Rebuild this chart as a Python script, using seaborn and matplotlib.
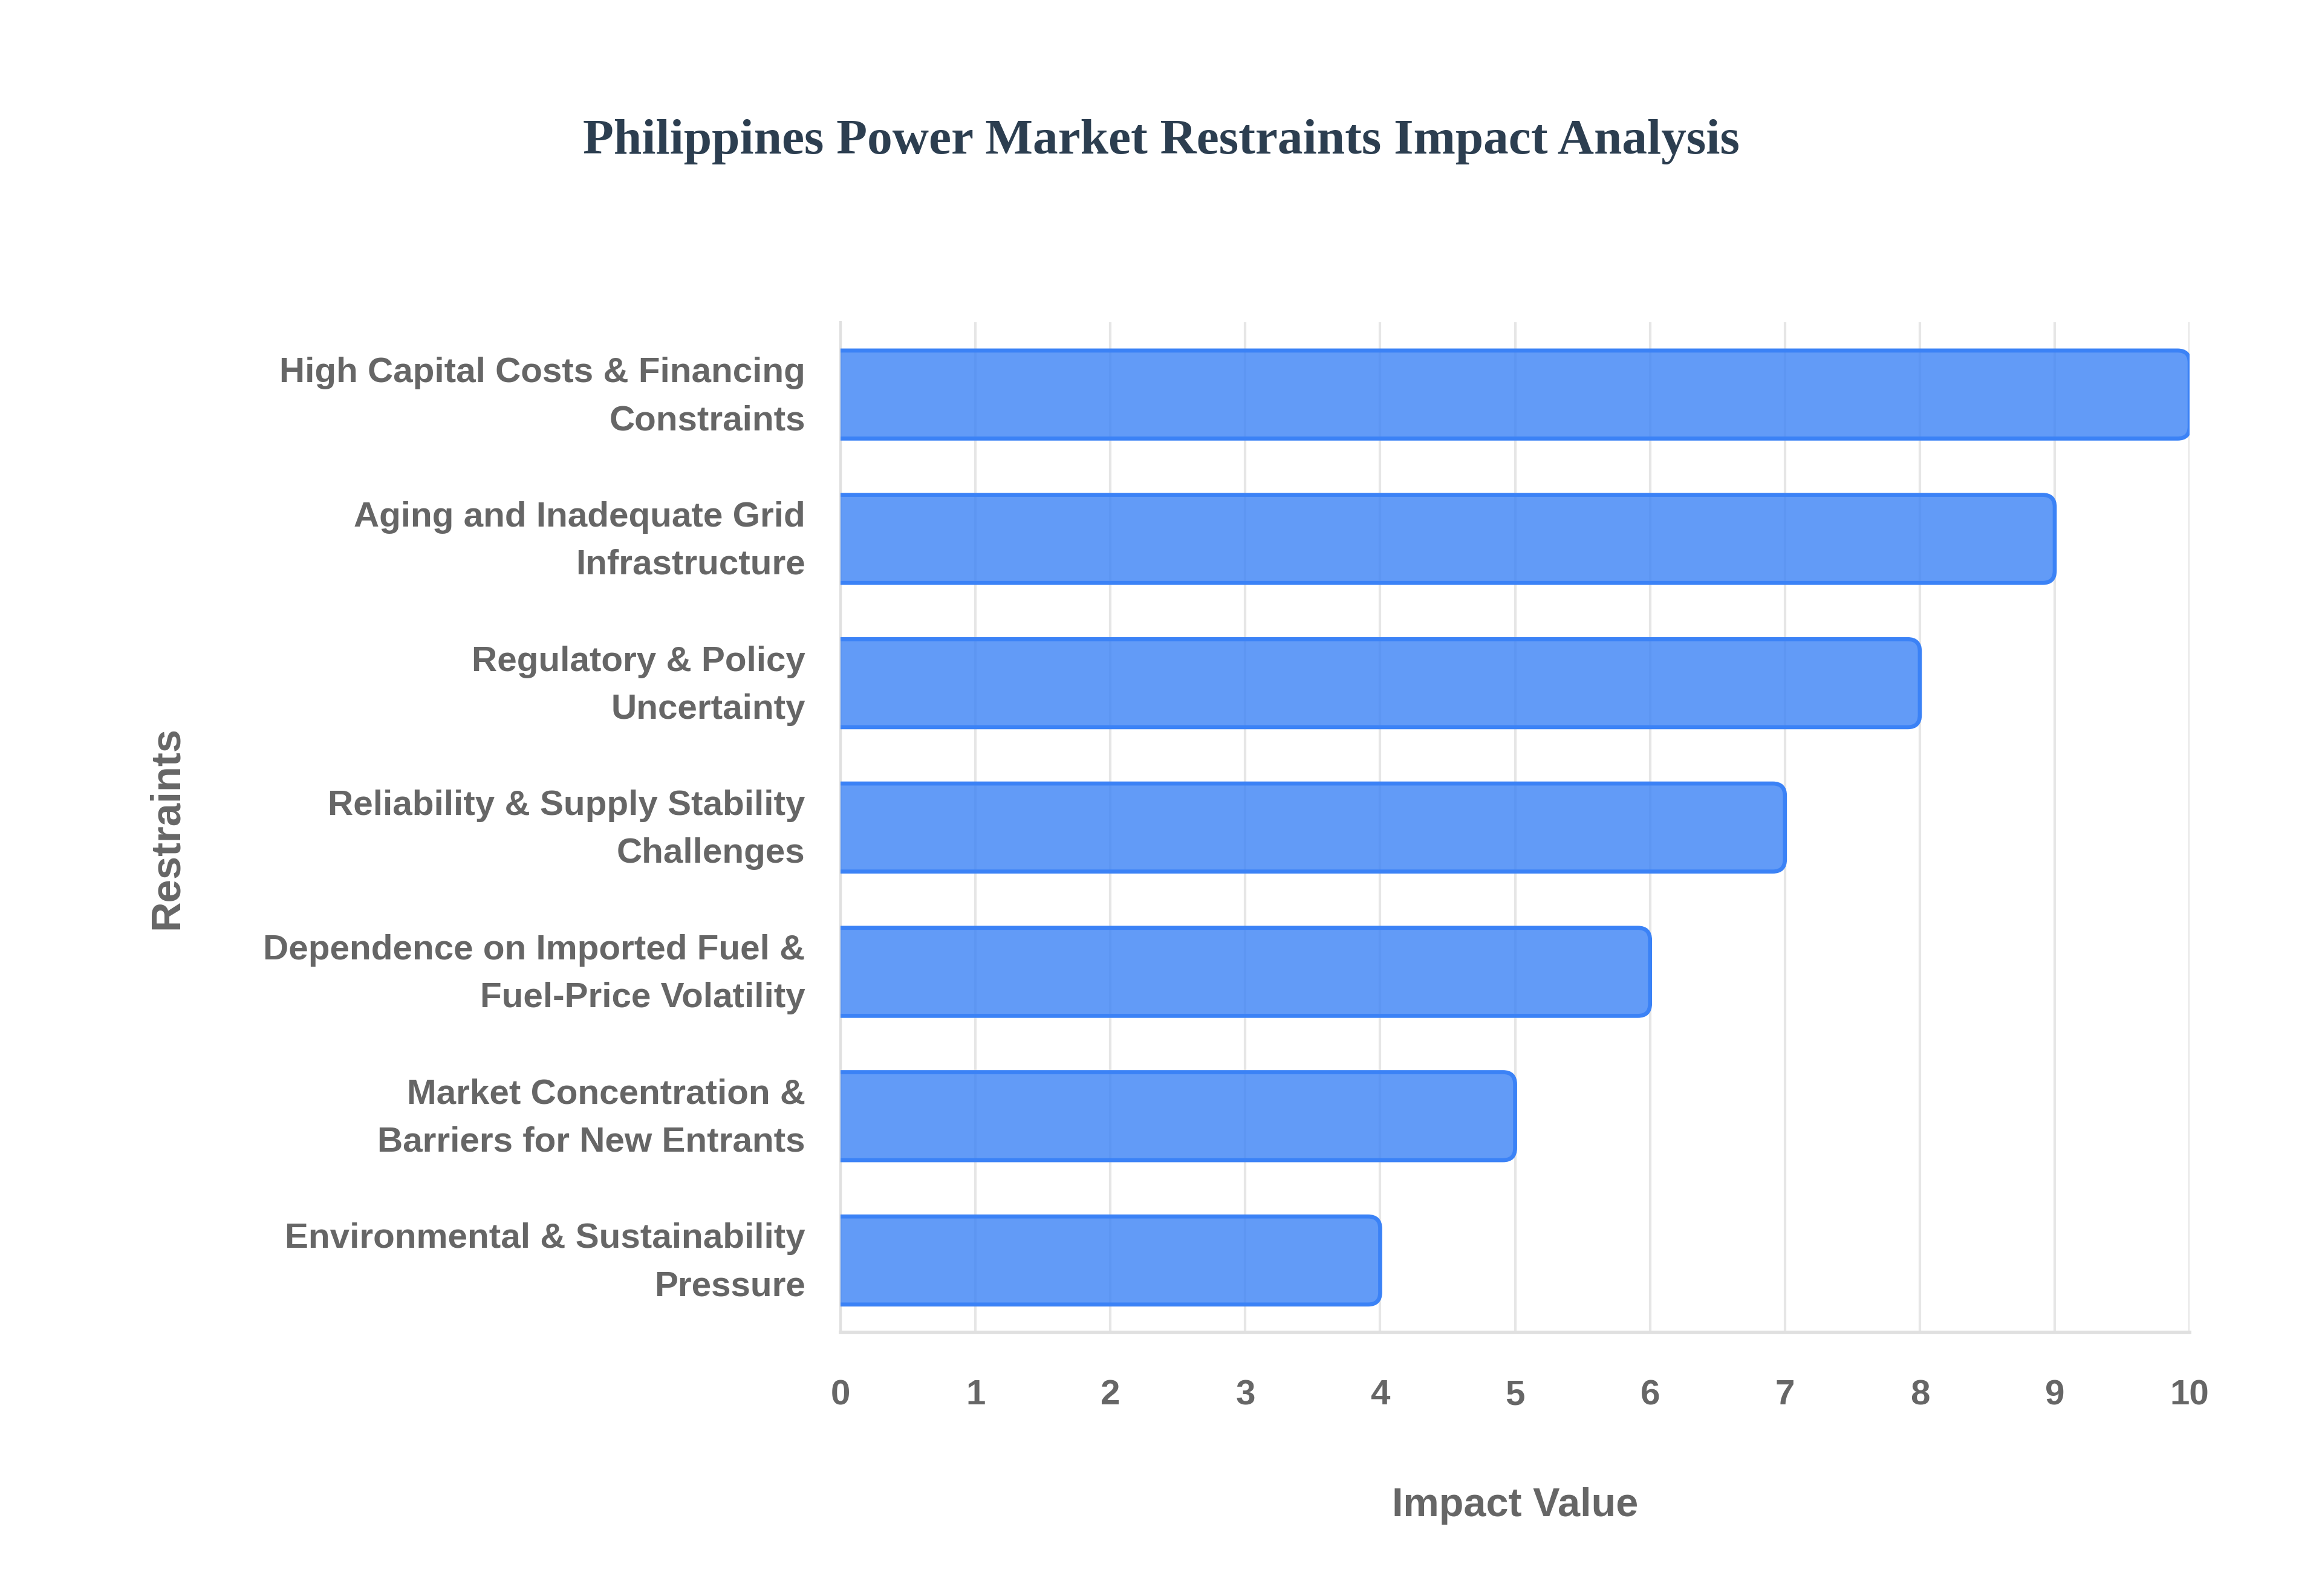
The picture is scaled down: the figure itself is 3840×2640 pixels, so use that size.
import matplotlib
matplotlib.use("Agg")
import matplotlib.pyplot as plt
import matplotlib.transforms as mtransforms
import seaborn as sns
import pandas as pd
from matplotlib.patches import FancyBboxPatch

categories = [
    "High Capital Costs & Financing\nConstraints",
    "Aging and Inadequate Grid\nInfrastructure",
    "Regulatory & Policy\nUncertainty",
    "Reliability & Supply Stability\nChallenges",
    "Dependence on Imported Fuel &\nFuel-Price Volatility",
    "Market Concentration &\nBarriers for New Entrants",
    "Environmental & Sustainability\nPressure",
]
impact_values = [10, 9, 8, 7, 6, 5, 4]
x_ticks = [0, 1, 2, 3, 4, 5, 6, 7, 8, 9, 10]

title = "Philippines Power Market Restraints Impact Analysis"
x_label = "Impact Value"
y_label = "Restraints"

sns.set_theme(style="white")
plt.rcParams["font.family"] = ["Liberation Sans", "DejaVu Sans"]

df = pd.DataFrame({"Restraint": categories, "Impact": impact_values})

fig = plt.figure(figsize=(12.8, 8.8), dpi=300)
ax = fig.add_axes([0.362, 0.165, 0.581, 0.633])

sns.barplot(data=df, x="Impact", y="Restraint", orient="h", ax=ax,
            color="#3b82f6", width=0.61, saturation=1)

ax.set_xlim(0, 10)
ax.set_ylim(len(categories) - 0.5, -0.5)

# rounded bars built from seaborn's patches
fig.canvas.draw()
bbox = ax.get_window_extent()
xu_per_px = 10 / bbox.width
yu_per_px = len(categories) / bbox.height
aspect = yu_per_px / xu_per_px
r = 20 * xu_per_px
for p in list(ax.patches):
    x0, y0 = p.get_x(), p.get_y()
    w, h = p.get_width(), p.get_height()
    p.set_visible(False)
    fb = FancyBboxPatch((x0 - r * 2, y0), w + r * 2, h,
                        boxstyle=f"round,pad=0,rounding_size={r}",
                        mutation_aspect=aspect,
                        facecolor=(59/255, 130/255, 246/255, 0.8),
                        edgecolor="#3b82f6", linewidth=1.6, zorder=3)
    ax.add_patch(fb)

ax.set_xticks(x_ticks)
ax.grid(axis="x", color="#e6e6e6", linewidth=1.0, zorder=0)
ax.grid(axis="y", visible=False)
ax.set_axisbelow(True)
for s in ["top", "right"]:
    ax.spines[s].set_visible(False)
ax.spines["left"].set_color("#e0e0e0")
ax.spines["bottom"].set_color("#e0e0e0")
ax.spines["left"].set_linewidth(1.0)
ax.spines["bottom"].set_linewidth(1.4)

ax.tick_params(axis="x", length=6, color="#e6e6e6", width=1.0, pad=12.5,
               labelsize=14, labelcolor="#666666")
ax.tick_params(axis="y", length=0, pad=14, labelsize=14, labelcolor="#666666")
for lab in ax.get_xticklabels() + ax.get_yticklabels():
    lab.set_fontweight("bold")
shift = mtransforms.ScaledTranslation(0, 3.5 / 72, fig.dpi_scale_trans)
for lab in ax.get_yticklabels():
    lab.set_horizontalalignment("right")
    lab.set_multialignment("right")
    lab.set_linespacing(1.6)
    lab.set_transform(lab.get_transform() + shift)

ax.set_xlabel(x_label, fontsize=16, fontweight="bold", color="#666666", labelpad=30)
ax.set_ylabel(y_label, fontsize=16.5, fontweight="bold", color="#666666")
ax.yaxis.set_label_coords(-0.485, 0.5)

fig.text(0.5, 0.911, title, ha="center", va="center",
         fontsize=20, fontweight="bold", color="#2c3e50",
         family=["Liberation Serif", "DejaVu Serif"])

fig.savefig("out.png", dpi=300, facecolor="white")
